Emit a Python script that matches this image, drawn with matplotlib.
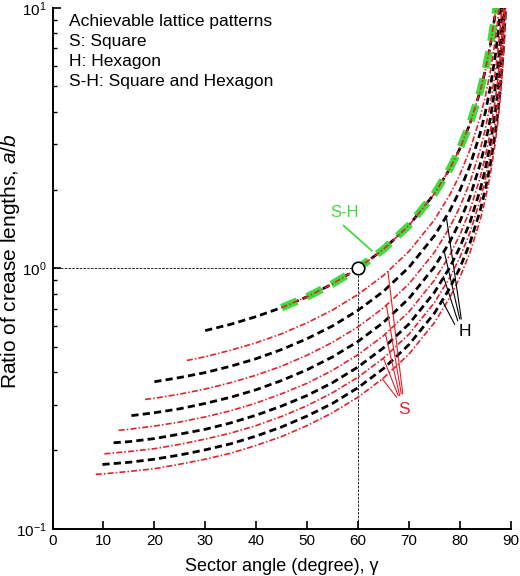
import matplotlib
matplotlib.use("Agg")
import matplotlib.pyplot as plt

plt.rcParams['font.family'] = ['Liberation Sans', 'DejaVu Sans']
plt.rcParams['mathtext.fontset'] = 'custom'
plt.rcParams['mathtext.rm'] = 'Liberation Sans'
plt.rcParams['mathtext.it'] = 'Liberation Sans:italic'
plt.rcParams['mathtext.bf'] = 'Liberation Sans:bold'

# ---- data ----
# Hexagon (H) curves, black dashed
h1_gamma = [30, 35, 40, 45, 50, 55, 60, 65, 70, 75, 78, 80, 82, 84, 85, 86, 87, 87.5]
h1_ratio = [0.577, 0.610, 0.653, 0.707, 0.778, 0.872, 1.0, 1.183, 1.462, 1.932, 2.405, 2.88, 3.593, 4.784, 5.737, 7.168, 9.56, 11.46]

h2_gamma = [20, 25, 30, 35, 40, 45, 50, 55, 60, 65, 70, 75, 78, 80, 82, 84, 85, 86, 87, 87.5, 88, 88.5]
h2_ratio = [0.367, 0.381, 0.398, 0.421, 0.450, 0.488, 0.537, 0.601, 0.690, 0.816, 1.009, 1.333, 1.659, 1.987, 2.478, 3.301, 3.956, 4.943, 6.60, 7.91, 9.89, 13.18]

h3_gamma = [15.5, 20, 25, 30, 35, 40, 45, 50, 55, 60, 65, 70, 75, 78, 80, 82, 84, 85, 86, 87, 87.5, 88, 88.5, 89]
h3_ratio = [0.272, 0.279, 0.289, 0.303, 0.320, 0.342, 0.371, 0.408, 0.457, 0.524, 0.620, 0.766, 1.012, 1.260, 1.509, 1.882, 2.507, 3.005, 3.754, 5.01, 6.01, 7.51, 10.01, 15.0]

h4_gamma = [12, 15, 20, 25, 30, 35, 40, 45, 50, 55, 60, 65, 70, 75, 78, 80, 82, 84, 85, 86, 87, 87.5, 88, 88.5, 89]
h4_ratio = [0.214, 0.216, 0.222, 0.231, 0.241, 0.255, 0.273, 0.296, 0.325, 0.364, 0.418, 0.495, 0.611, 0.808, 1.005, 1.204, 1.501, 2.0, 2.397, 2.994, 3.996, 4.79, 5.99, 7.98, 11.98]

h5_gamma = [9.8, 15, 20, 25, 30, 35, 40, 45, 50, 55, 60, 65, 70, 75, 78, 80, 82, 84, 85, 86, 87, 87.5, 88, 88.5, 89, 89.25]
h5_ratio = [0.1766, 0.180, 0.185, 0.192, 0.201, 0.212, 0.227, 0.246, 0.271, 0.303, 0.348, 0.412, 0.509, 0.672, 0.837, 1.002, 1.25, 1.665, 1.995, 2.493, 3.327, 3.99, 4.986, 6.646, 9.97, 13.3]

# Square (S) curves, red dash-dot
s0_gamma = [45, 50, 55, 60, 65, 70, 75, 78, 80, 82, 84, 85, 86, 87, 87.5]
s0_ratio = [0.707, 0.778, 0.872, 1.0, 1.183, 1.462, 1.932, 2.405, 2.88, 3.593, 4.784, 5.737, 7.168, 9.56, 11.46]

s1_gamma = [26.4, 30, 35, 40, 45, 50, 55, 60, 65, 70, 75, 78, 80, 82, 84, 85, 86, 87, 87.5, 88]
s1_ratio = [0.443, 0.458, 0.485, 0.518, 0.561, 0.618, 0.692, 0.794, 0.939, 1.161, 1.534, 1.910, 2.287, 2.852, 3.799, 4.553, 5.688, 7.59, 9.10, 11.38]

s2_gamma = [18.2, 20, 25, 30, 35, 40, 45, 50, 55, 60, 65, 70, 75, 78, 80, 82, 84, 85, 86, 87, 87.5, 88, 88.5]
s2_ratio = [0.314, 0.317, 0.329, 0.344, 0.364, 0.389, 0.421, 0.464, 0.520, 0.596, 0.705, 0.871, 1.151, 1.433, 1.717, 2.141, 2.852, 3.417, 4.269, 5.70, 6.83, 8.54, 11.38]

s3_gamma = [13, 15, 20, 25, 30, 35, 40, 45, 50, 55, 60, 65, 70, 75, 78, 80, 82, 84, 85, 86, 87, 87.5, 88, 88.5, 89]
s3_ratio = [0.239, 0.241, 0.248, 0.257, 0.269, 0.284, 0.304, 0.330, 0.362, 0.406, 0.466, 0.551, 0.681, 0.900, 1.121, 1.342, 1.674, 2.230, 2.672, 3.338, 4.455, 5.34, 6.676, 8.90, 13.35]

s4_gamma = [10.2, 15, 20, 25, 30, 35, 40, 45, 50, 55, 60, 65, 70, 75, 78, 80, 82, 84, 85, 86, 87, 87.5, 88, 88.5, 89]
s4_ratio = [0.194, 0.198, 0.203, 0.211, 0.221, 0.233, 0.249, 0.270, 0.297, 0.333, 0.382, 0.452, 0.558, 0.738, 0.919, 1.100, 1.372, 1.828, 2.190, 2.736, 3.652, 4.38, 5.473, 7.296, 10.95]

s5_gamma = [8.5, 10, 15, 20, 25, 30, 35, 40, 45, 50, 55, 60, 65, 70, 75, 78, 80, 82, 84, 85, 86, 87, 87.5, 88, 88.5, 89, 89.25]
s5_ratio = [0.162, 0.1625, 0.166, 0.170, 0.177, 0.185, 0.195, 0.209, 0.226, 0.249, 0.279, 0.320, 0.379, 0.468, 0.618, 0.770, 0.922, 1.149, 1.531, 1.835, 2.292, 3.059, 3.67, 4.585, 6.11, 9.17, 12.2]

# Square-and-Hexagon (S-H) branch, green
sh_gamma = s0_gamma
sh_ratio = s0_ratio

# special point
pt_gamma = 60
pt_ratio = 1.0

legend_lines = ["Achievable lattice patterns", "S: Square", "H: Hexagon", "S-H: Square and Hexagon"]

# leader lines: (start gamma, start ratio, end gamma, end ratio)
h_leaders_start_g = [80.3, 80.0, 79.6, 79.0]
h_leaders_start_r = [0.64, 0.64, 0.63, 0.61]
h_leaders_end_g = [77.4, 77.0, 76.8, 76.6]
h_leaders_end_r = [1.56, 1.15, 0.93, 0.75]

s_leaders_start_g = [68.8, 68.5, 68.2, 67.9, 67.6]
s_leaders_start_r = [0.33, 0.33, 0.325, 0.325, 0.32]
s_leaders_end_g = [65.9, 65.6, 65.4, 65.0, 64.8]
s_leaders_end_r = [0.972, 0.721, 0.560, 0.452, 0.376]

# ---- figure ----
fig = plt.figure(figsize=(5.2, 5.76), dpi=100)
ax = fig.add_axes([0.101, 0.082, 0.881, 0.904])

RED = '#e3212b'
GREEN = '#3fdc3f'

# reference lines to the special point
ax.plot([0, pt_gamma], [pt_ratio, pt_ratio], color='black', lw=0.6, ls=(0, (3, 1.5)), zorder=1)
ax.plot([pt_gamma, pt_gamma], [0.1, pt_ratio], color='black', lw=0.6, ls=(0, (3, 1.5)), zorder=1)

h_curves = [(h1_gamma, h1_ratio), (h2_gamma, h2_ratio), (h3_gamma, h3_ratio),
            (h4_gamma, h4_ratio), (h5_gamma, h5_ratio)]
s_curves = [(s0_gamma, s0_ratio), (s1_gamma, s1_ratio), (s2_gamma, s2_ratio),
            (s3_gamma, s3_ratio), (s4_gamma, s4_ratio), (s5_gamma, s5_ratio)]

for g, r in h_curves:
    ax.plot(g, r, color='black', lw=2.0, ls=(0, (2.6, 1.5)), zorder=2)

ax.plot(sh_gamma, sh_ratio, color=GREEN, lw=5.5, ls=(0, (2.2, 1.4)), zorder=3,
        solid_capstyle='butt', dash_capstyle='butt')

for g, r in s_curves:
    ax.plot(g, r, color=RED, lw=1.2, ls=(0, (3.6, 1.3, 0.9, 1.3)), zorder=4)

ax.plot([pt_gamma], [pt_ratio], marker='o', ms=9, mfc='white', mec='black', mew=1.2,
        ls='none', zorder=6)

# leaders
for x0, y0, x1, y1 in zip(h_leaders_start_g, h_leaders_start_r, h_leaders_end_g, h_leaders_end_r):
    ax.plot([x0, x1], [y0, y1], color='black', lw=0.8, zorder=5)
for x0, y0, x1, y1 in zip(s_leaders_start_g, s_leaders_start_r, s_leaders_end_g, s_leaders_end_r):
    ax.plot([x0, x1], [y0, y1], color=RED, lw=0.8, zorder=5)
ax.plot([57.2, 62.7], [1.46, 1.17], color=GREEN, lw=1.3, zorder=5)

ax.text(81.0, 0.574, 'H', color='black', fontsize=12.5, ha='center', va='center')
ax.text(69.1, 0.288, 'S', color=RED, fontsize=12.5, ha='center', va='center')
ax.text(57.4, 1.64, 'S-H', color=GREEN, fontsize=12, ha='center', va='center')

ax.text(0.035, 0.988, "\n".join(legend_lines), transform=ax.transAxes, fontsize=12.5,
        ha='left', va='top', linespacing=1.42)

ax.set_yscale('log')
ax.set_xlim(0, 90)
ax.set_ylim(0.1, 10)
ax.set_xticks(range(0, 91, 10))

for side in ['top', 'right']:
    ax.spines[side].set_visible(False)
for side in ['left', 'bottom']:
    ax.spines[side].set_linewidth(1.4)

ax.tick_params(axis='both', which='major', direction='in', length=6, width=1.2,
               labelsize=11, pad=4)
ax.tick_params(axis='y', which='minor', direction='in', length=3, width=1.0)
ax.tick_params(axis='x', which='minor', bottom=False)

ax.set_xlabel('Sector angle (degree), γ', fontsize=13, labelpad=7)
ax.set_ylabel(r'Ratio of crease lengths, $a/b$', fontsize=15)
ax.yaxis.set_label_coords(-0.066, 0.513)

fig.savefig('out.png', dpi=100)
